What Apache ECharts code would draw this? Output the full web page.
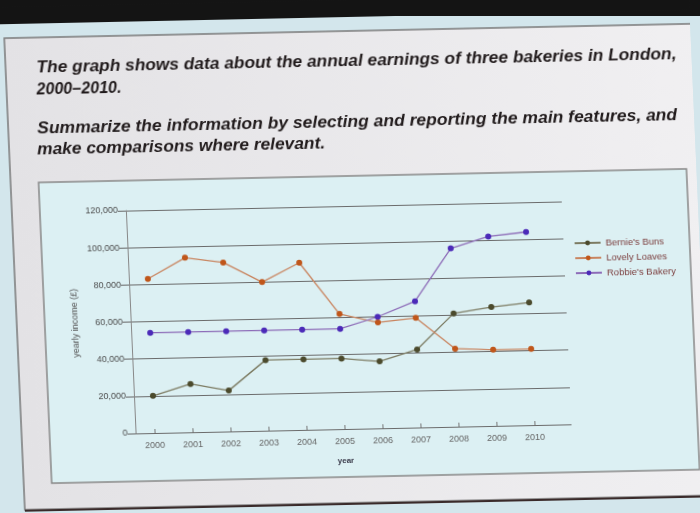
<!DOCTYPE html>
<html>
<head>
<meta charset="utf-8">
<script src="https://cdn.jsdelivr.net/npm/echarts@6/dist/echarts.min.js"></script>
<style>
html, body { margin: 0; padding: 0; overflow: hidden; }
body { width: 700px; height: 513px; background: linear-gradient(#141414 0, #141414 16px, #d3e6ec 16px); }
/* the reference is a photo of a screen, so the whole sheet leans a little */
#chart { width: 700px; height: 513px; transform: rotate(-1.2deg) skewX(1.3deg); transform-origin: 350px 256px; }
</style>
</head>
<body>
<div id="chart"></div>
<script>
const years = ['2000', '2001', '2002', '2003', '2004', '2005', '2006', '2007', '2008', '2009', '2010']
const bernieBuns = [20000, 26000, 22000, 38000, 38000, 38000, 36000, 42000, 61000, 64000, 66000]
const lovelyLoaves = [83000, 94000, 91000, 80000, 90000, 62000, 57000, 59000, 42000, 41000, 41000]
const robbiesBakery = [54000, 54000, 54000, 54000, 54000, 54000, 60000, 68000, 96000, 102000, 104000]
const seriesNames = ["Bernie's Buns", 'Lovely Loaves', "Robbie's Bakery"]
const yMin = 0
const yMax = 120000
const yStep = 20000

const titleLines = [
	'The graph shows data about the annual earnings of three bakeries in London,',
	'2000\u20132010.',
	'Summarize the information by selecting and reporting the main features, and',
	'make comparisons where relevant.'
]

const chart = echarts.init(document.getElementById('chart'))

// fit each heading line to the width it takes in the photo
const titleFont = 'italic bold 17px "Liberation Sans Narrow", "Liberation Sans", Arial, sans-serif'
const measure = document.createElement('canvas').getContext('2d')
function headingLine(text, x, y, width) {
	measure.font = titleFont
	const k = width / measure.measureText(text).width
	return {
		type: 'text', x: x, y: y, scaleX: k, z: -1,
		style: { text: text, font: titleFont, fill: '#211b1c', verticalAlign: 'middle' }
	}
}

function bakery(name, data, dot, stroke) {
	return {
		name: name,
		type: 'line',
		data: data,
		xAxisIndex: 0,
		yAxisIndex: 0,
		symbol: 'circle',
		symbolSize: 6,
		z: 4,
		itemStyle: { color: dot },
		lineStyle: { color: stroke, width: 1.3 }
	}
}

const axisRange = { type: 'value', min: yMin, max: yMax, interval: yStep }

chart.setOption({
	animation: false,
	textStyle: { fontFamily: 'Liberation Sans, Arial, sans-serif' },
	graphic: [
		{ type: 'rect', z: -5, shape: { x: -30, y: -30, width: 780, height: 47 }, style: { fill: '#141414' } },
		{
			type: 'rect', z: -5,
			shape: { x: 14, y: 31, width: 720, height: 472 },
			style: {
				fill: { type: 'linear', x: 0, y: 0, x2: 1, y2: 0, colorStops: [{ offset: 0, color: '#e3e2e5' }, { offset: 1, color: '#f1f0f2' }] },
				stroke: '#7a7a7a', lineWidth: 1.5
			}
		},
		{ type: 'line', z: -4, shape: { x1: 14, y1: 504, x2: 740, y2: 504 }, style: { stroke: '#3a2a2a', lineWidth: 2 } },
		{ type: 'rect', z: -4, shape: { x: 42, y: 176, width: 648, height: 301 }, style: { fill: '#dcf0f3', stroke: '#888', lineWidth: 1.5 } },
		headingLine(titleLines[0], 45, 61.5, 640),
		headingLine(titleLines[1], 44, 83, 85),
		headingLine(titleLines[2], 43, 122.5, 640),
		headingLine(titleLines[3], 42, 143.5, 288)
	],
	legend: {
		data: seriesNames,
		orient: 'vertical',
		left: 569,
		top: 238,
		itemWidth: 26,
		itemHeight: 6,
		itemGap: 5,
		textStyle: { fontSize: 9.5, lineHeight: 10, color: '#7a3c3c' }
	},
	grid: [
		{ left: 128, top: 206, width: 418, height: 223 },
		{ left: 128, top: 206, width: 436, height: 223 }
	],
	xAxis: [
		{
			type: 'category',
			gridIndex: 0,
			data: years,
			boundaryGap: true,
			axisLine: { show: false },
			axisTick: { show: true, alignWithLabel: true, inside: true, length: 4, lineStyle: { color: '#777' } },
			axisLabel: { fontSize: 9, color: '#666', margin: 8 },
			name: 'year',
			nameLocation: 'middle',
			nameGap: 28,
			nameTextStyle: { fontSize: 8, fontWeight: 'bold', color: '#3a3a4a' }
		},
		{ type: 'value', gridIndex: 1, show: false }
	],
	yAxis: [
		Object.assign({}, axisRange, {
			gridIndex: 0,
			axisLine: { show: true, lineStyle: { color: '#888' } },
			axisTick: { show: true, length: 8, lineStyle: { color: '#666' } },
			axisLabel: { fontSize: 9, color: '#4d4d4d', margin: 8, formatter: v => v.toLocaleString('en-US') },
			splitLine: { show: false },
			name: 'yearly income (\u00a3)',
			nameLocation: 'middle',
			nameGap: 46,
			nameTextStyle: { fontSize: 9, color: '#555' }
		}),
		Object.assign({}, axisRange, {
			gridIndex: 1,
			axisLine: { show: false },
			axisTick: { show: false },
			axisLabel: { show: false },
			splitLine: { show: true, lineStyle: { color: '#6b6b6b', width: 1.2 } }
		})
	],
	series: [
		bakery(seriesNames[0], bernieBuns, '#4b4a2c', '#7c7b62'),
		bakery(seriesNames[1], lovelyLoaves, '#c0561a', '#c98560'),
		bakery(seriesNames[2], robbiesBakery, '#4b2ab8', '#8d6cb8')
	]
})
</script>
</body>
</html>
